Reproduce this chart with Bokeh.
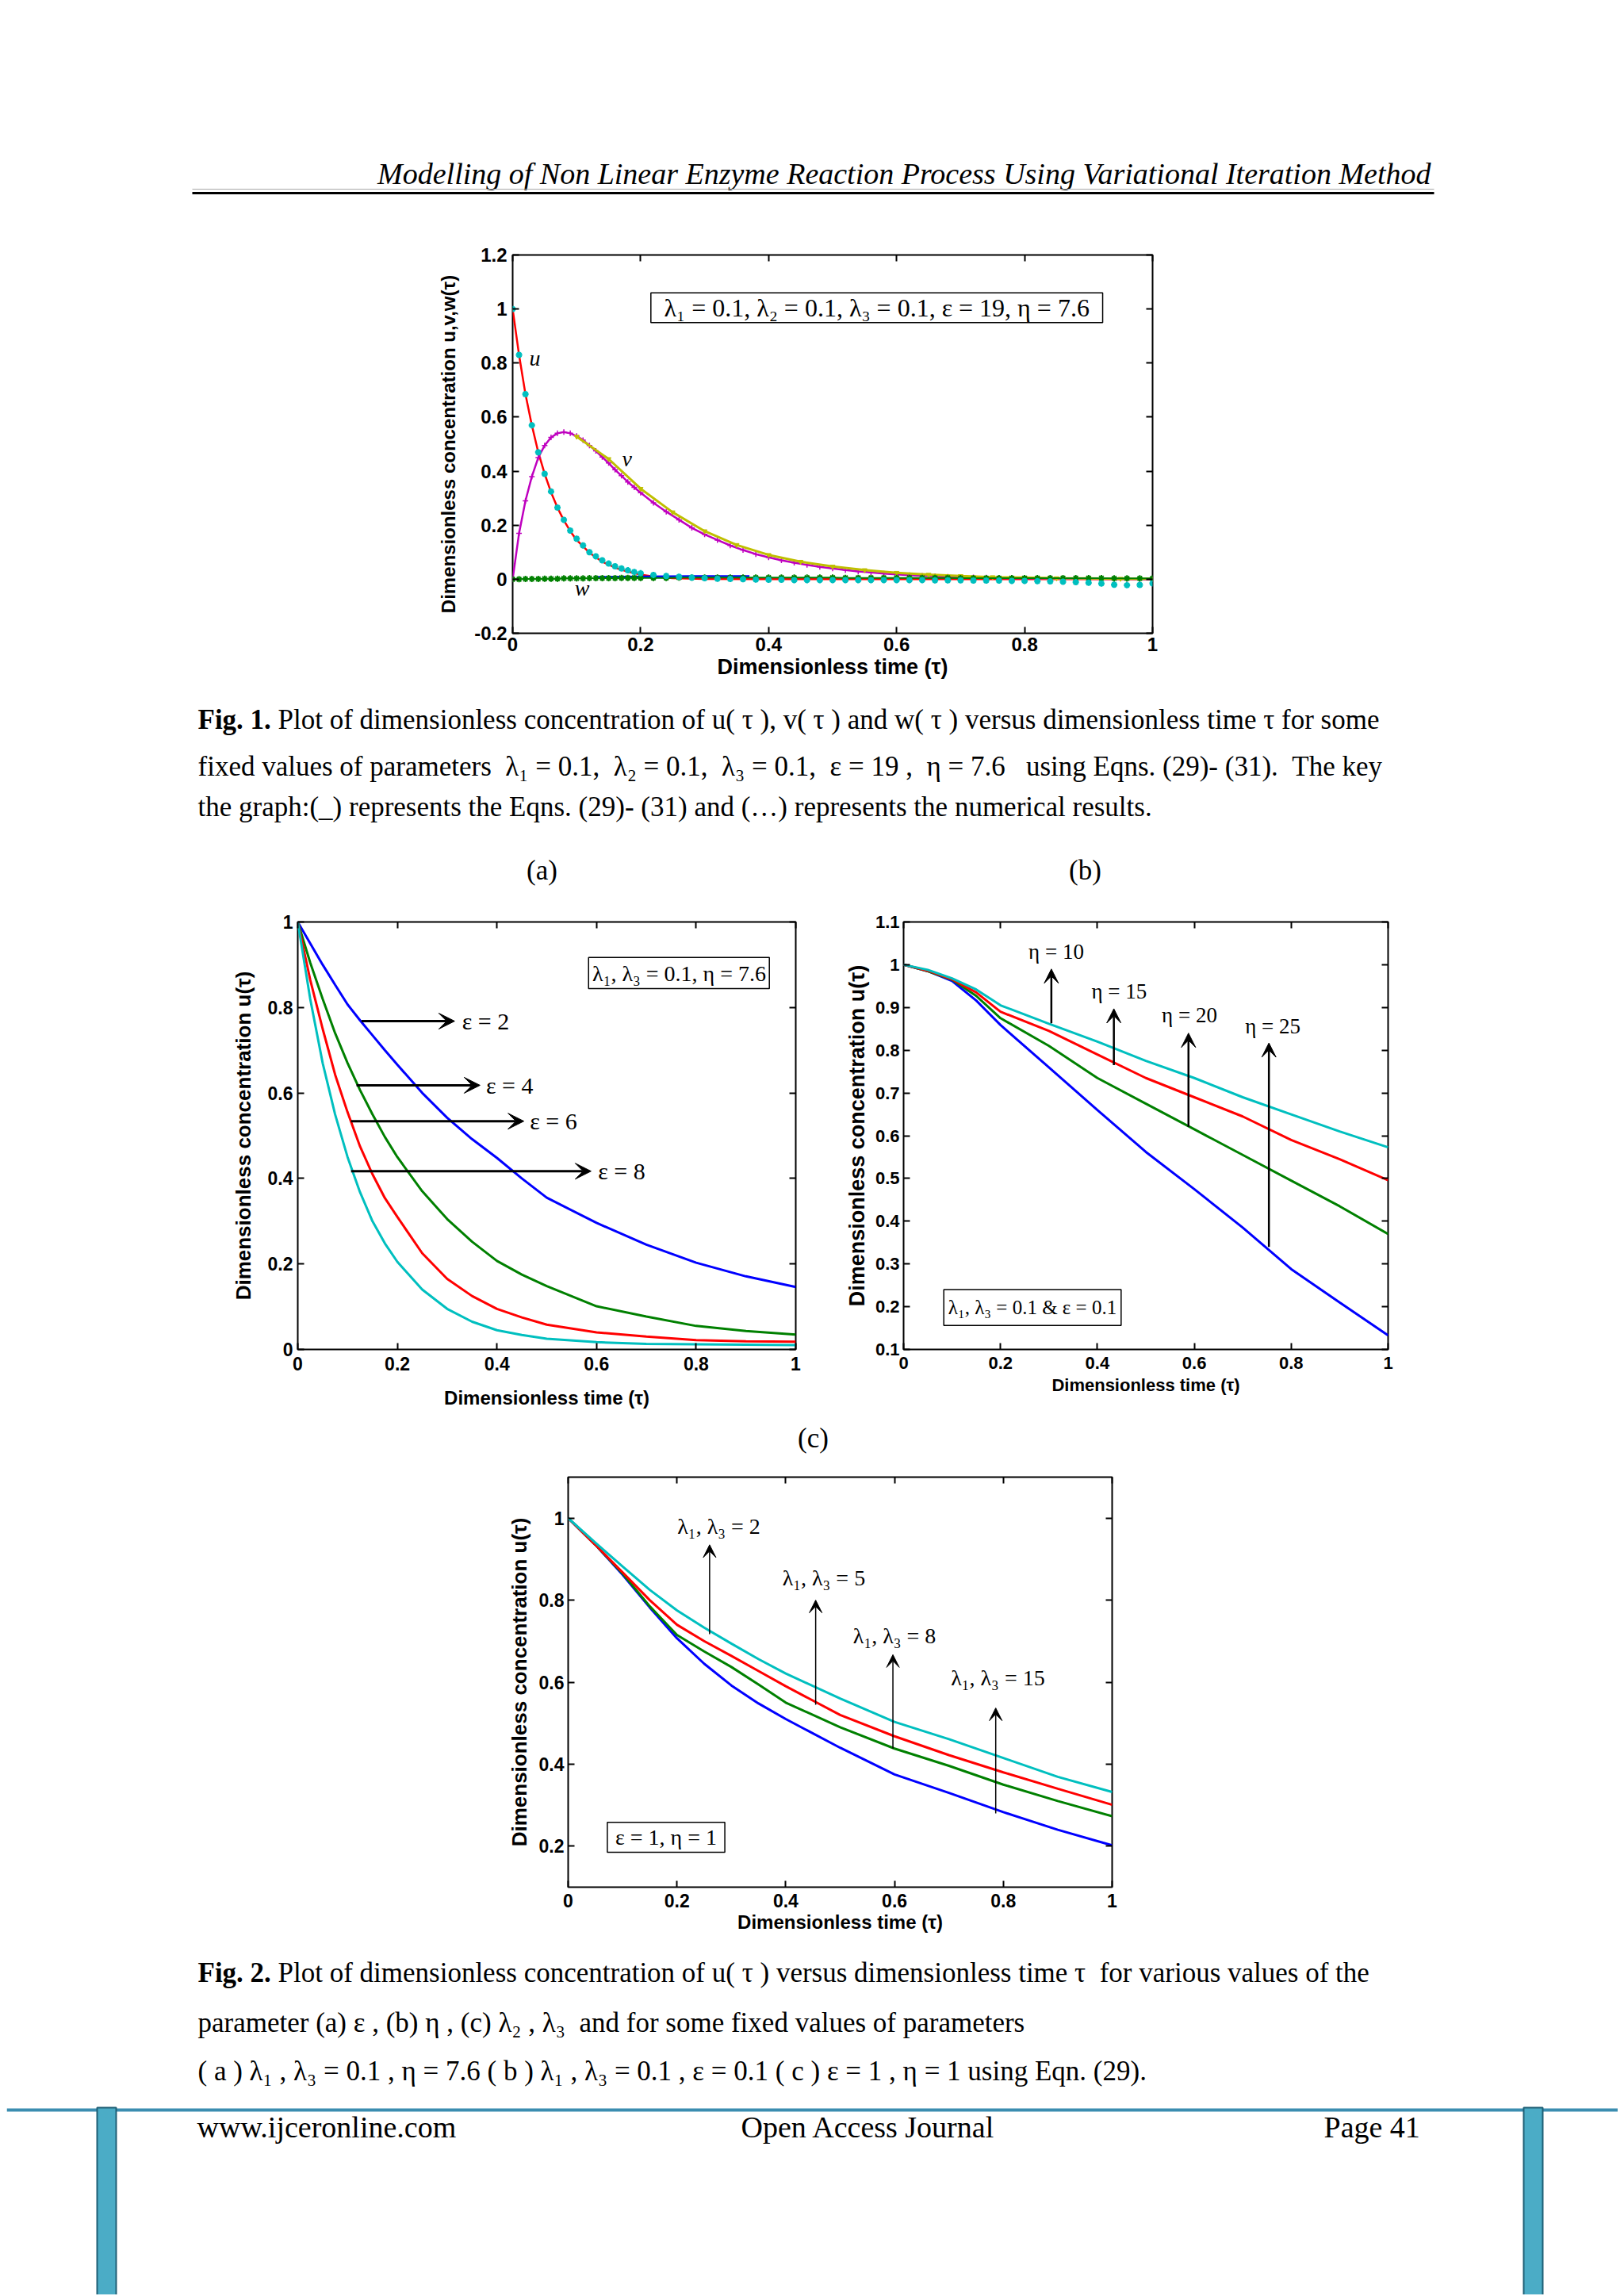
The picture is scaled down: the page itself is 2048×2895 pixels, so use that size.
from bokeh.plotting import figure
from bokeh.models import (Range1d, FixedTicker, LinearAxis, Arrow, VeeHead, Spacer,
                          CustomJSTickFormatter)
from bokeh.layouts import column, row
from bokeh.core.properties import value
from bokeh.embed import file_html
from bokeh.resources import INLINE

# ---------------- Fig. 1 data ----------------
tau_num = [0.00, 0.01, 0.02, 0.03, 0.04, 0.05, 0.06, 0.07, 0.08, 0.09, 0.10, 0.11, 0.12, 0.13, 0.14,
           0.15, 0.16, 0.17, 0.18, 0.19, 0.20,
           0.22, 0.24, 0.26, 0.28, 0.30, 0.32, 0.34, 0.36, 0.38, 0.40, 0.42, 0.44, 0.46, 0.48, 0.50,
           0.52, 0.54, 0.56, 0.58, 0.60,
           0.62, 0.64, 0.66, 0.68, 0.70, 0.72, 0.74, 0.76, 0.78, 0.80, 0.82, 0.84, 0.86, 0.88, 0.90,
           0.92, 0.94, 0.96, 0.98, 1.00]
u_num = [1.00, 0.83, 0.685, 0.57, 0.47, 0.39, 0.325, 0.265, 0.22, 0.18, 0.15, 0.125, 0.10, 0.085, 0.07,
         0.058, 0.048, 0.04, 0.033, 0.027, 0.022,
         0.016, 0.012, 0.009, 0.006, 0.004, 0.002, 0.001, 0.0, -0.001, -0.002, -0.002, -0.003, -0.003,
         -0.003, -0.003, -0.003, -0.003, -0.003, -0.003, -0.003,
         -0.003, -0.003, -0.004, -0.004, -0.004, -0.005, -0.005, -0.005, -0.006, -0.006, -0.007, -0.008,
         -0.009, -0.011, -0.013, -0.016, -0.02, -0.022, -0.021, -0.015]
v_num = [0.0, 0.17, 0.29, 0.38, 0.45, 0.495, 0.525, 0.54, 0.545, 0.54, 0.53, 0.515, 0.495, 0.475, 0.452,
         0.43, 0.405, 0.383, 0.36, 0.34, 0.32,
         0.283, 0.25, 0.22, 0.19, 0.166, 0.145, 0.125, 0.108, 0.093, 0.081, 0.07, 0.061, 0.053, 0.046,
         0.04, 0.034, 0.029, 0.025, 0.021, 0.018,
         0.015, 0.013, 0.011, 0.009, 0.008, 0.007, 0.006, 0.005, 0.004, 0.004, 0.003, 0.003, 0.002,
         0.002, 0.002, 0.001, 0.001, 0.001, 0.0, 0.0]
w_num = [0.0, 0.0, 0.001, 0.001, 0.001, 0.002, 0.002, 0.002, 0.003, 0.003, 0.003, 0.003, 0.004, 0.004,
         0.004, 0.004, 0.004, 0.005, 0.005, 0.005, 0.005,
         0.005, 0.005, 0.006, 0.006, 0.006, 0.006, 0.006, 0.006, 0.006, 0.006, 0.006, 0.006, 0.006,
         0.006, 0.006, 0.005, 0.005, 0.005, 0.005, 0.005,
         0.005, 0.005, 0.005, 0.005, 0.004, 0.004, 0.004, 0.004, 0.004, 0.004, 0.004, 0.004, 0.004,
         0.004, 0.004, 0.004, 0.003, 0.003, 0.003, 0.003]
tau_an = [0.0, 0.01, 0.02, 0.03, 0.04, 0.05, 0.06, 0.07, 0.08, 0.09, 0.10, 0.12, 0.14, 0.16, 0.18,
          0.20, 0.22, 0.25, 0.30, 0.40, 0.50, 0.60, 0.70, 0.80, 0.90, 1.00]
u_an = [1.0, 0.83, 0.685, 0.57, 0.47, 0.39, 0.322, 0.265, 0.218, 0.178, 0.145, 0.098, 0.065, 0.043,
        0.028, 0.017, 0.01, 0.004, 0.001, 0.0, 0.0, 0.0, 0.0, 0.0, 0.0, 0.0]
tau_v = [0.10, 0.15, 0.20, 0.25, 0.30, 0.35, 0.40, 0.45, 0.50, 0.55, 0.60, 0.65, 0.70, 0.75, 0.80,
         0.85, 0.90, 0.95, 1.00]
v_an = [0.528, 0.445, 0.335, 0.248, 0.178, 0.127, 0.09, 0.065, 0.047, 0.034, 0.024, 0.017, 0.012,
        0.008, 0.006, 0.004, 0.003, 0.002, 0.002]
tau_wb = [0.13, 0.20, 0.28, 0.37]
w_b = [0.008, 0.010, 0.011, 0.011]

# ---------------- Fig. 2(a) data (epsilon) ----------------
tau_a = [0, 0.025, 0.05, 0.075, 0.1, 0.125, 0.15, 0.175, 0.2, 0.25, 0.3, 0.35, 0.4, 0.45, 0.5,
         0.6, 0.7, 0.8, 0.9, 1.0]
u_eps2 = [1.0, 0.95, 0.90, 0.853, 0.807, 0.77, 0.735, 0.70, 0.666, 0.60, 0.542, 0.492, 0.448, 0.40,
          0.355, 0.296, 0.245, 0.203, 0.171, 0.146]
u_eps4 = [1.0, 0.905, 0.82, 0.74, 0.67, 0.607, 0.55, 0.497, 0.45, 0.37, 0.305, 0.252, 0.207, 0.175,
          0.148, 0.101, 0.077, 0.055, 0.043, 0.035]
u_eps6 = [1.0, 0.865, 0.75, 0.643, 0.555, 0.475, 0.41, 0.354, 0.31, 0.225, 0.165, 0.125, 0.095, 0.075,
          0.058, 0.04, 0.03, 0.022, 0.019, 0.018]
u_eps8 = [1.0, 0.82, 0.67, 0.55, 0.45, 0.368, 0.30, 0.248, 0.205, 0.14, 0.095, 0.065, 0.045, 0.034,
          0.025, 0.017, 0.013, 0.012, 0.011, 0.010]
eps_labels = ["ε = 2", "ε = 4", "ε = 6", "ε = 8"]
eps_arrow_y = [0.768, 0.618, 0.534, 0.417]
eps_arrow_x0 = [0.128, 0.118, 0.107, 0.107]
eps_arrow_x1 = [0.315, 0.366, 0.454, 0.589]
eps_label_x = [0.33, 0.378, 0.466, 0.603]

# ---------------- Fig. 2(b) data (eta) ----------------
tau_b = [0, 0.05, 0.1, 0.15, 0.2, 0.3, 0.4, 0.5, 0.6, 0.7, 0.8, 0.9, 1.0]
u_eta10 = [1.0, 0.985, 0.962, 0.916, 0.859, 0.76, 0.66, 0.562, 0.475, 0.385, 0.288, 0.21, 0.133]
u_eta15 = [1.0, 0.985, 0.965, 0.927, 0.875, 0.81, 0.735, 0.675, 0.615, 0.555, 0.495, 0.435, 0.37]
u_eta20 = [1.0, 0.986, 0.966, 0.935, 0.89, 0.845, 0.79, 0.735, 0.69, 0.645, 0.59, 0.545, 0.496]
u_eta25 = [1.0, 0.988, 0.968, 0.942, 0.905, 0.862, 0.82, 0.775, 0.735, 0.69, 0.65, 0.61, 0.573]
eta_labels = ["η = 10", "η = 15", "η = 20", "η = 25"]
eta_arrow_x = [0.305, 0.434, 0.588, 0.754]
eta_arrow_y0 = [0.863, 0.765, 0.621, 0.34]
eta_arrow_y1 = [0.99, 0.897, 0.84, 0.817]
eta_label_x = [0.315, 0.445, 0.59, 0.762]
eta_label_y = [1.03, 0.938, 0.882, 0.856]

# ---------------- Fig. 2(c) data (lambda) ----------------
tau_c = [0, 0.05, 0.1, 0.15, 0.2, 0.25, 0.3, 0.35, 0.4, 0.5, 0.6, 0.7, 0.8, 0.9, 1.0]
u_lam2 = [1.0, 0.935, 0.862, 0.782, 0.707, 0.645, 0.592, 0.548, 0.51, 0.44, 0.375, 0.33, 0.283, 0.24, 0.202]
u_lam5 = [1.0, 0.935, 0.865, 0.785, 0.715, 0.675, 0.637, 0.594, 0.55, 0.49, 0.438, 0.396, 0.35, 0.31, 0.273]
u_lam8 = [1.0, 0.935, 0.868, 0.80, 0.74, 0.70, 0.664, 0.627, 0.59, 0.52, 0.468, 0.422, 0.38, 0.34, 0.301]
u_lam15 = [1.0, 0.94, 0.882, 0.825, 0.775, 0.733, 0.694, 0.656, 0.621, 0.56, 0.503, 0.461, 0.415, 0.369, 0.332]
lam_labels = ["λ₁, λ₃ = 2", "λ₁, λ₃ = 5", "λ₁, λ₃ = 8", "λ₁, λ₃ = 15"]
lam_arrow_x = [0.26, 0.455, 0.597, 0.786]
lam_arrow_y0 = [0.717, 0.545, 0.438, 0.28]
lam_arrow_y1 = [0.935, 0.80, 0.667, 0.537]
lam_label_x = [0.277, 0.47, 0.6, 0.79]
lam_label_y = [0.98, 0.855, 0.713, 0.61]

BLUE, GREEN, RED, CYAN = "#0000FF", "#008000", "#FF0000", "#00BFBF"
MAGENTA, OLIVE = "#BF00BF", "#BFBF00"
SERIF = "Liberation Serif"
SANS = "Liberation Sans"
NB = "\u00a0"

FMT = CustomJSTickFormatter(code="return String(Math.round(tick*10)/10)")


def page_band(y0, y1, x0=8, x1=2040):
    p = figure(width=x1 - x0, height=y1 - y0, x_range=Range1d(x0, x1), y_range=Range1d(y1, y0),
               x_axis_type=None, y_axis_type=None, toolbar_location=None, output_backend="svg",
               min_border=0, title=None)
    p.outline_line_color = None
    return p


def txt(p, x, y, s, size, font=SERIF, style="normal", align="left", baseline="middle"):
    p.text(x=[x], y=[y], text=[s], text_font=value(font), text_font_size=f"{size}px",
           text_font_style=style, text_align=align, text_baseline=baseline, text_color="black")


def chart(width, height, lb, rb, tb, bb, yr, xticks, yticks, ylabel, tick_px, xlab_px, ylab_px,
          x_std, x_lstd, y_std, y_lstd, tick_len=8):
    p = figure(width=width, height=height, x_range=Range1d(0, 1), y_range=Range1d(*yr),
               toolbar_location=None, output_backend="svg", title=None,
               min_border_left=lb, min_border_right=rb, min_border_top=tb, min_border_bottom=bb)
    p.grid.visible = False
    p.outline_line_color = "black"
    p.outline_line_width = 2
    for ax, ticks, std, lstd, lpx in ((p.xaxis[0], xticks, x_std, x_lstd, xlab_px),
                                      (p.yaxis[0], yticks, y_std, y_lstd, ylab_px)):
        ax.ticker = FixedTicker(ticks=ticks)
        ax.formatter = FMT
        ax.major_label_text_font = SANS
        ax.major_label_text_font_style = "bold"
        ax.major_label_text_font_size = f"{tick_px}px"
        ax.major_label_text_color = "black"
        ax.major_label_standoff = std
        ax.axis_label_standoff = lstd
        ax.axis_label_text_font = SANS
        ax.axis_label_text_font_style = "bold"
        ax.axis_label_text_font_size = f"{lpx}px"
        ax.axis_label_text_color = "black"
        ax.major_tick_in = tick_len
        ax.major_tick_out = 0
        ax.major_tick_line_width = 2
        ax.minor_tick_line_color = None
        ax.axis_line_color = None
    p.xaxis[0].axis_label = "Dimensionless time (τ)"
    p.yaxis[0].axis_label = ylabel
    for loc, ticks in (("right", yticks), ("above", xticks)):
        ax = LinearAxis(ticker=FixedTicker(ticks=ticks), major_tick_in=tick_len, major_tick_out=0,
                        major_tick_line_width=2, minor_tick_line_color=None, axis_line_color=None,
                        major_label_text_color=None, major_label_text_font_size="1px",
                        major_label_standoff=0)
        p.add_layout(ax, loc)
    return p


def box(p, l, r, t, b):
    p.quad(left=[l], right=[r], top=[t], bottom=[b], fill_color="white", line_color="black",
           line_width=1.5)


# ---------------- header ----------------
hdr = page_band(8, 290)
txt(hdr, 1804, 218, "Modelling of Non Linear Enzyme Reaction Process Using Variational Iteration Method",
    38, style="italic", align="right")
hdr.line([242, 1808], [238, 238], line_color="#a8a8a8", line_width=1)
hdr.line([242, 1808], [243, 243], line_color="black", line_width=3)

# ---------------- Fig. 1 ----------------
f1 = chart(1013, 580, 146, 60, 31, 72, (-0.2, 1.2), [0, 0.2, 0.4, 0.6, 0.8, 1.0],
           [-0.2, 0, 0.2, 0.4, 0.6, 0.8, 1.0, 1.2], "Dimensionless concentration u,v,w(τ)",
           24, 27, 24, 5, 2, 7, 16)
f1.line(tau_an, u_an, line_color=RED, line_width=2.5)
f1.line(tau_num, v_num, line_color=MAGENTA, line_width=2.5)
f1.scatter(tau_num, v_num, marker="cross", size=7, line_color=MAGENTA, line_width=1.5)
f1.line(tau_v, v_an, line_color=OLIVE, line_width=3)
f1.scatter(tau_v, v_an, marker="inverted_triangle", size=6, fill_color=OLIVE, line_color=OLIVE)
f1.line(tau_wb, w_b, line_color=BLUE, line_width=2.5)
f1.line(tau_num, w_num, line_color=GREEN, line_width=2)
f1.scatter(tau_num, w_num, marker="asterisk", size=8, line_color=GREEN, line_width=2)
f1.scatter(tau_num, u_num, marker="asterisk", size=8, line_color=CYAN, line_width=2.5)
box(f1, 0.216, 0.922, 1.06, 0.95)
txt(f1, 0.569, 1.005, "λ₁ = 0.1, λ₂ = 0.1, λ₃ = 0.1, ε = 19, η = 7.6", 32, align="center")
txt(f1, 0.026, 0.818, "u", 28, style="italic")
txt(f1, 0.171, 0.445, "v", 28, style="italic")
txt(f1, 0.097, -0.034, "w", 28, style="italic")

# ---------------- caption 1 ----------------
c1 = page_band(870, 1120)
txt(c1, 249, 907, "Fig. 1.", 35, style="bold")
txt(c1, 350, 907, "Plot of  dimensionless concentration of u( τ ), v( τ ) and w( τ ) versus dimensionless time τ for some", 35)
line2 = ("fixed values of parameters " + NB + "λ₁" + NB + "= 0.1," + NB + " λ₂" + NB + "= 0.1," + NB +
         " λ₃" + NB + "= 0.1," + NB + " ε" + NB + "= 19 ," + NB + " η" + NB + "= 7.6 " + NB + NB +
         "using Eqns. (29)- (31). " + NB + "The key")
txt(c1, 249, 966, line2, 35)
txt(c1, 249, 1017, "the graph:(_) represents the Eqns. (29)- (31) and (…) represents the numerical results.", 35)
txt(c1, 683, 1097, "(a)", 35, align="center")
txt(c1, 1368, 1097, "(b)", 35, align="center")

# ---------------- Fig. 2(a) ----------------
fa = chart(1032, 670, 367, 37, 41, 89, (0, 1), [0, 0.2, 0.4, 0.6, 0.8, 1.0],
           [0, 0.2, 0.4, 0.6, 0.8, 1.0], "Dimensionless concentration u(τ)", 23, 24, 26, 9, 18, 6, 13)
for ys, col in ((u_eps2, BLUE), (u_eps4, GREEN), (u_eps6, RED), (u_eps8, CYAN)):
    fa.line(tau_a, ys, line_color=col, line_width=3)
for lab, y, x0, x1, lx in zip(eps_labels, eps_arrow_y, eps_arrow_x0, eps_arrow_x1, eps_label_x):
    fa.add_layout(Arrow(end=VeeHead(size=20, fill_color="black", line_color="black"),
                        x_start=x0, y_start=y, x_end=x1, y_end=y, line_width=3, line_color="black"))
    txt(fa, lx, y, lab, 30)
box(fa, 0.584, 0.947, 0.917, 0.844)
txt(fa, 0.766, 0.88, "λ₁, λ₃ = 0.1, η = 7.6", 28, align="center")

# ---------------- Fig. 2(b) ----------------
fb = chart(1000, 670, 99, 290, 42, 69, (0.1, 1.1), [0, 0.2, 0.4, 0.6, 0.8, 1.0],
           [0.1, 0.2, 0.3, 0.4, 0.5, 0.6, 0.7, 0.8, 0.9, 1.0, 1.1],
           "Dimensionless concentration u(τ)", 22, 22, 27, 9, 5, 5, 5)
for ys, col in ((u_eta10, BLUE), (u_eta15, GREEN), (u_eta20, RED), (u_eta25, CYAN)):
    fb.line(tau_b, ys, line_color=col, line_width=3)
for lab, x, y0, y1, lx, ly in zip(eta_labels, eta_arrow_x, eta_arrow_y0, eta_arrow_y1,
                                  eta_label_x, eta_label_y):
    fb.add_layout(Arrow(end=VeeHead(size=18, fill_color="black", line_color="black"),
                        x_start=x, y_start=y0, x_end=x, y_end=y1, line_width=2.5, line_color="black"))
    txt(fb, lx, ly, lab, 27, align="center")
box(fb, 0.083, 0.449, 0.24, 0.156)
txt(fb, 0.266, 0.198, "λ₁, λ₃ = 0.1 & ε = 0.1", 25, align="center")

# ---------------- (c) label ----------------
cc = page_band(1790, 1840)
txt(cc, 1025, 1813, "(c)", 35, align="center")

# ---------------- Fig. 2(c) ----------------
fc = chart(900, 610, 116, 98, 22, 71, (0.1, 1.1), [0, 0.2, 0.4, 0.6, 0.8, 1.0],
           [0.2, 0.4, 0.6, 0.8, 1.0], "Dimensionless concentration u(τ)", 23, 24, 26, 8, 2, 5, 7)
for ys, col in ((u_lam2, BLUE), (u_lam5, GREEN), (u_lam8, RED), (u_lam15, CYAN)):
    fc.line(tau_c, ys, line_color=col, line_width=3)
for lab, x, y0, y1, lx, ly in zip(lam_labels, lam_arrow_x, lam_arrow_y0, lam_arrow_y1,
                                  lam_label_x, lam_label_y):
    fc.add_layout(Arrow(end=VeeHead(size=16, fill_color="black", line_color="black"),
                        x_start=x, y_start=y0, x_end=x, y_end=y1, line_width=1.5, line_color="black"))
    txt(fc, lx, ly, lab, 28, align="center")
box(fc, 0.072, 0.288, 0.258, 0.185)
txt(fc, 0.18, 0.2215, "ε = 1, η = 1", 28, align="center")

# ---------------- caption 2 + footer ----------------
c2 = page_band(2450, 2893)
txt(c2, 249, 2487, "Fig. 2.", 35, style="bold")
txt(c2, 350, 2487, "Plot of  dimensionless concentration of u( τ ) versus dimensionless time τ " + NB + "for various values of the", 35)
txt(c2, 249, 2550, "parameter (a) ε , (b) η , (c) λ₂ , λ₃ " + NB + "and for some fixed values of parameters", 35)
txt(c2, 249, 2611, "( a ) λ₁ , λ₃ = 0.1 , η = 7.6 ( b ) λ₁ , λ₃ = 0.1 , ε = 0.1 ( c ) ε = 1 , η = 1 using Eqn. (29).", 35)
c2.line([8, 2040], [2660, 2660], line_color="#3B8DB0", line_width=4)
c2.quad(left=[122, 1921], right=[146, 1945], top=[2657, 2657], bottom=[2900, 2900],
        fill_color="#4BACC6", line_color="#1F5F75", line_width=2)
txt(c2, 248, 2681, "www.ijceronline.com", 38)
txt(c2, 934, 2681, "Open Access Journal", 38)
txt(c2, 1669, 2681, "Page 41", 38)

page = column(
    hdr,
    row(Spacer(width=492, height=580), f1),
    c1,
    row(fa, fb),
    cc,
    row(Spacer(width=592, height=610), fc),
    c2,
)
layout = column(Spacer(width=8, height=8), row(Spacer(width=8, height=8), page))

open("out.html", "w").write(file_html(layout, INLINE))
